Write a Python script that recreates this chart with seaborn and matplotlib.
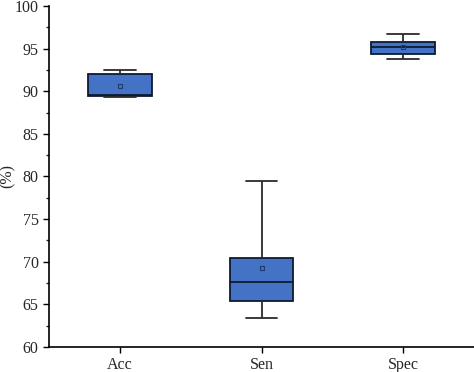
import seaborn as sns
import matplotlib.pyplot as plt
import pandas as pd
from matplotlib.ticker import MultipleLocator

sns.set_style("ticks")
plt.rcParams['font.family'] = ['Liberation Serif', 'DejaVu Serif']

# five fold results per metric
categories = ["Acc", "Sen", "Spec"]
acc = [89.3, 89.45, 89.6, 92.0, 92.5]
sen = [63.4, 65.4, 67.6, 70.4, 79.5]
spec = [93.8, 94.35, 95.2, 95.8, 96.7]

df = pd.DataFrame({
    "metric": [categories[0]] * len(acc) + [categories[1]] * len(sen) + [categories[2]] * len(spec),
    "value": acc + sen + spec,
})

fig = plt.figure(figsize=(4.74, 3.72), dpi=100)
ax = fig.add_axes([0.1034, 0.0672, 0.8966, 0.9168])

line_col = "#2b2b2b"
sns.boxplot(
    data=df, x="metric", y="value", order=categories,
    color="#4472C4", saturation=1, width=0.45, whis=(0, 100),
    showmeans=True, ax=ax, linewidth=1.3,
    boxprops=dict(edgecolor="#0d1a33"),
    medianprops=dict(color="#0d1a33", linewidth=1.3),
    whiskerprops=dict(color=line_col, linewidth=1.3),
    capprops=dict(color=line_col, linewidth=1.3),
    capwidths=0.225,
    meanprops=dict(marker="s", markerfacecolor="none", markeredgecolor="#1f3a6e",
                   markersize=3.5, markeredgewidth=0.8),
)

ax.set_xlim(-0.5, 2.5)
ax.set_ylim(60, 100)
ax.yaxis.set_major_locator(MultipleLocator(5))
ax.yaxis.set_minor_locator(MultipleLocator(2.5))
ax.set_xlabel("")
ax.set_ylabel("(%)", fontsize=11.5)
ax.yaxis.set_label_coords(-0.078, 0.5)
ax.tick_params(axis="both", which="major", labelsize=11.5, length=4, width=1, color="black")
ax.tick_params(axis="y", which="minor", length=2.5, width=1)
sns.despine(ax=ax)
for s in ["left", "bottom"]:
    ax.spines[s].set_linewidth(1.2)
    ax.spines[s].set_color("black")

plt.savefig("out.png", dpi=100)
